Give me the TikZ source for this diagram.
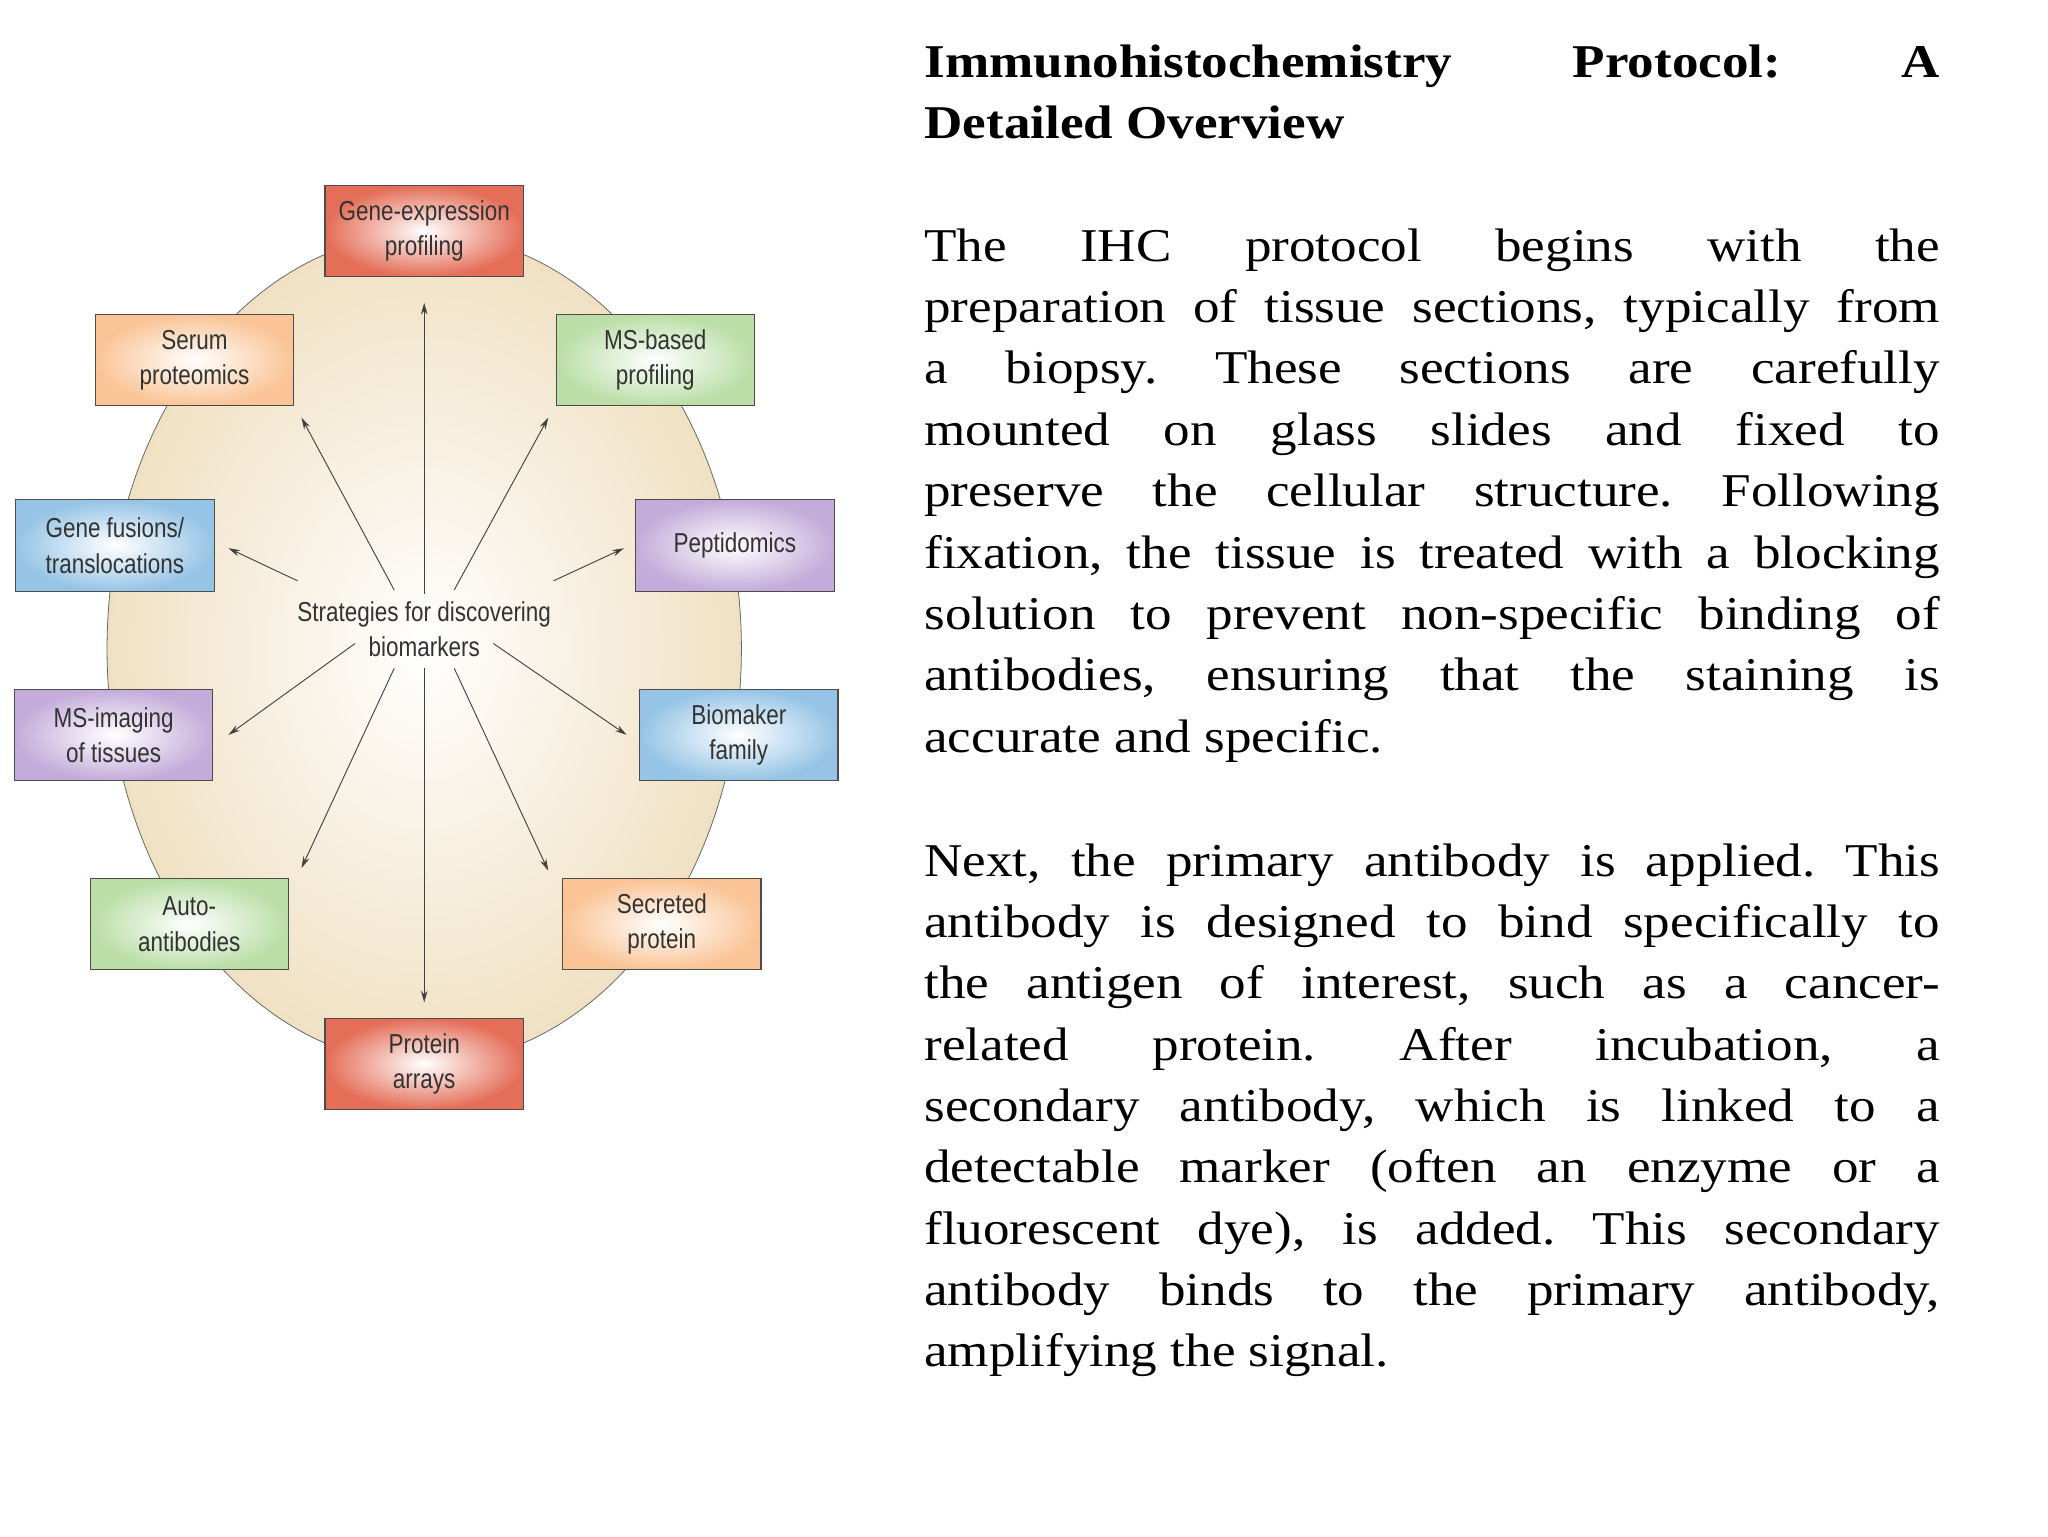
\documentclass[tikz,border=0pt]{standalone}
\usepackage{fontspec}
\setmainfont{Liberation Serif}[FakeStretch=1.13]
\newfontfamily\dia{Liberation Sans}[FakeStretch=0.82]
\usetikzlibrary{arrows.meta}
\definecolor{cred}{RGB}{228,110,88}
\definecolor{corange}{RGB}{250,196,150}
\definecolor{cgreen}{RGB}{186,222,166}
\definecolor{cblue}{RGB}{150,196,230}
\definecolor{cpurple}{RGB}{196,172,218}
\definecolor{cbeige}{RGB}{240,225,195}
\tikzset{
 bx/.style={draw=black!70,line width=0.8pt,minimum width=152pt,minimum height=70pt,align=center,inner color=white,font=\dia\fontsize{21}{27}\selectfont,text=black!80},
 ar/.style={-{Stealth[length=9pt,width=5pt]},line width=0.7pt,black!75},
 ln/.style={font=\fontsize{36}{47}\selectfont}
}
\newcommand{\jl}[1]{\makebox[778pt][s]{#1}}
\frenchspacing
\begin{document}
\begin{tikzpicture}[x=1pt,y=-1pt]
\path[fill=white] (0,0) rectangle (1569,1177);
\draw[black!60,line width=0.6pt,inner color=white,outer color=cbeige] (325,497) ellipse [x radius=243,y radius=318];
\node[bx,outer color=cred] (ge) at (325,177) {Gene-expression\\profiling};
\node[bx,outer color=corange] (sp) at (149,276) {Serum\\proteomics};
\node[bx,outer color=cgreen] (ms) at (502,276) {MS-based\\profiling};
\node[bx,outer color=cblue] (gf) at (88,418) {Gene fusions/\\translocations};
\node[bx,outer color=cpurple] (pe) at (563,418) {Peptidomics};
\node[bx,outer color=cpurple] (mi) at (87,563) {MS-imaging\\of tissues};
\node[bx,outer color=cblue] (bf) at (566,563) {Biomaker\\family};
\node[bx,outer color=cgreen] (aa) at (145,708) {Auto-\\antibodies};
\node[bx,outer color=corange] (se) at (507,708) {Secreted\\protein};
\node[bx,outer color=cred] (pa) at (325,815) {Protein\\arrays};
\node[align=center,font=\dia\fontsize{21}{27}\selectfont,text=black!80] (c) at (325,482) {Strategies for discovering\\biomarkers};
\foreach \n/\sx/\sy/\ex/\ey in {a/325/455/325/232, b/302/452/231/320, d/348/452/420/320, e/228/445/175/420, f/424/445/478/420, g/272/493/175/563, h/378/493/480/563, i/302/512/231/665, j/348/512/420/667, k/325/512/325/768}{
 \coordinate (s\n) at (\sx,\sy); \coordinate (t\n) at (\ex,\ey);
 \draw[ar] (s\n) -- (t\n);
}
\node[anchor=north west,inner sep=0,font=\bfseries\fontsize{36}{47}\selectfont,align=left] (title) at (708,34) {\jl{Immunohistochemistry\hfill Protocol:\hfill A}\\Detailed Overview};
\node[anchor=north west,inner sep=0,ln,align=left] (p1) at (708,175) {%
\jl{The IHC protocol begins with the}\\
\jl{preparation of tissue sections, typically from}\\
\jl{a biopsy. These sections are carefully}\\
\jl{mounted on glass slides and fixed to}\\
\jl{preserve the cellular structure. Following}\\
\jl{fixation, the tissue is treated with a blocking}\\
\jl{solution to prevent non-specific binding of}\\
\jl{antibodies, ensuring that the staining is}\\
accurate and specific.};
\node[anchor=north west,inner sep=0,ln,align=left] (p2) at (708,646) {%
\jl{Next, the primary antibody is applied. This}\\
\jl{antibody is designed to bind specifically to}\\
\jl{the antigen of interest, such as a cancer-}\\
\jl{related protein. After incubation, a}\\
\jl{secondary antibody, which is linked to a}\\
\jl{detectable marker (often an enzyme or a}\\
\jl{fluorescent dye), is added. This secondary}\\
\jl{antibody binds to the primary antibody,}\\
amplifying the signal.};
\end{tikzpicture}
\end{document}
